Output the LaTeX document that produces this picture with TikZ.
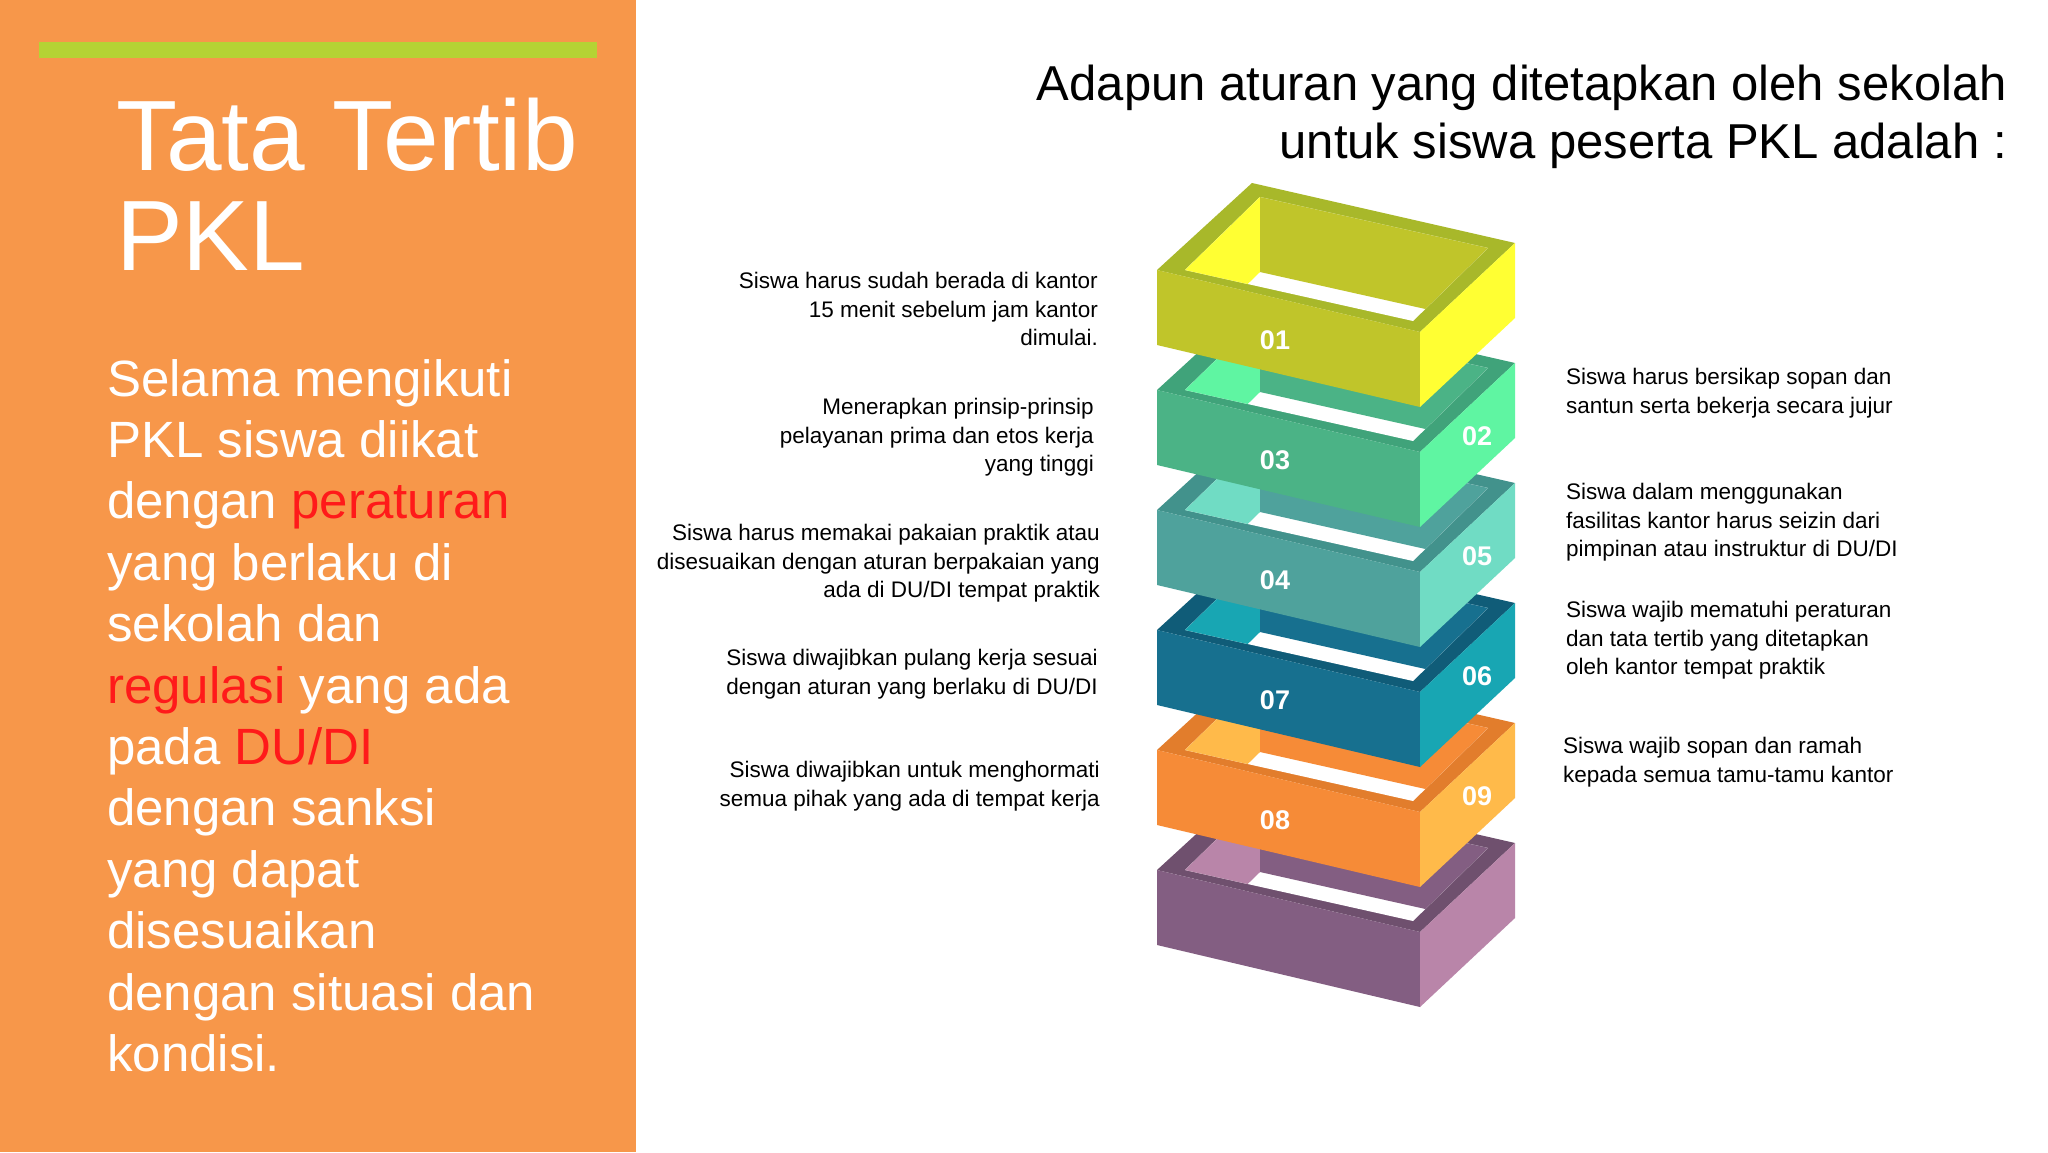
\documentclass[tikz,border=0pt]{standalone}
\usepackage{fontspec}
\setmainfont{Liberation Sans}
\definecolor{bgorange}{HTML}{F7974A}
\definecolor{barg}{HTML}{B5D334}
\definecolor{redt}{HTML}{FF1A1A}
\definecolor{yF}{HTML}{C0C52A}\definecolor{yS}{HTML}{FFFF33}\definecolor{yR}{HTML}{A8B82A}
\definecolor{gF}{HTML}{4BB386}\definecolor{gS}{HTML}{5FF5A2}\definecolor{gR}{HTML}{40A37A}
\definecolor{tF}{HTML}{4FA29C}\definecolor{tS}{HTML}{70DCC4}\definecolor{tR}{HTML}{42928C}
\definecolor{bF}{HTML}{17708F}\definecolor{bS}{HTML}{18A6B3}\definecolor{bR}{HTML}{105C78}
\definecolor{oF}{HTML}{F68B37}\definecolor{oS}{HTML}{FFBA4A}\definecolor{oR}{HTML}{E27D2C}
\definecolor{pF}{HTML}{835E82}\definecolor{pS}{HTML}{B985A9}\definecolor{pR}{HTML}{6F506E}
\newcommand\mybox[4]{%
\begin{scope}[shift={(0,#1)}]
\fill[#4] (1157,270)--(1252,183)--(1515,243)--(1420,332)--cycle;
\fill[white] (1185,270)--(1260,197)--(1488,248)--(1413,321)--cycle;
\begin{scope}
\clip (1185,270)--(1260,197)--(1488,248)--(1413,321)--cycle;
\fill[#3] (1185,270)--(1260,197)--(1260,272)--(1185,345)--cycle;
\fill[#2] (1260,197)--(1488,248)--(1488,323)--(1260,272)--cycle;
\end{scope}
\fill[#2] (1157,270)--(1420,332)--(1420,407)--(1157,345)--cycle;
\fill[#3] (1420,332)--(1515,243)--(1515,318)--(1420,407)--cycle;
\end{scope}}
\begin{document}
\begin{tikzpicture}[x=1pt,y=-1pt,
  num/.style={text=white,font=\bfseries\fontsize{27}{27}\selectfont,inner sep=0},
  lt/.style={anchor=north east,align=right,inner sep=0,font=\fontsize{22.5}{28.5}\selectfont},
  rt/.style={anchor=north west,align=left,inner sep=0,font=\fontsize{22.5}{28.5}\selectfont}]
\useasboundingbox (0,0) rectangle (2048,1152);
\fill[white] (0,0) rectangle (2048,1152);
\fill[bgorange] (0,0) rectangle (636,1152);
\fill[barg] (39,42) rectangle (597,58);
\node[anchor=north west,align=left,inner sep=0,text=white,font=\fontsize{100}{100}\selectfont] (title) at (116,98) {Tata Tertib\\PKL};
\node[anchor=north west,align=left,inner sep=0,text=white,font=\fontsize{51}{61.4}\selectfont] (body) at (107,359) {Selama mengikuti\\PKL siswa diikat\\dengan \textcolor{redt}{peraturan}\\yang berlaku di\\sekolah dan\\\textcolor{redt}{regulasi} yang ada\\pada \textcolor{redt}{DU/DI}\\dengan sanksi\\yang dapat\\disesuaikan\\dengan situasi dan\\kondisi.};
\node[anchor=north east,align=right,inner sep=0,font=\fontsize{49}{58}\selectfont] (head) at (2007,65) {Adapun aturan yang ditetapkan oleh sekolah\\untuk siswa peserta PKL adalah :};
\mybox{600}{pF}{pS}{pR}
\mybox{480}{oF}{oS}{oR}
\mybox{360}{bF}{bS}{bR}
\mybox{240}{tF}{tS}{tR}
\mybox{120}{gF}{gS}{gR}
\mybox{0}{yF}{yS}{yR}
\node[num] (n01) at (1275,340) {01};
\node[num] (n03) at (1275,460) {03};
\node[num] (n04) at (1275,580) {04};
\node[num] (n07) at (1275,700) {07};
\node[num] (n08) at (1275,820) {08};
\node[num] (n02) at (1477,436) {02};
\node[num] (n05) at (1477,556) {05};
\node[num] (n06) at (1477,676) {06};
\node[num] (n09) at (1477,796) {09};
\node[lt] (l1) at (1098,272) {Siswa harus sudah berada di kantor\\15 menit sebelum jam kantor\\dimulai.};
\node[lt] (l2) at (1094,398) {Menerapkan prinsip-prinsip\\pelayanan prima dan etos kerja\\yang tinggi};
\node[lt] (l3) at (1100,524) {Siswa harus memakai pakaian praktik atau\\disesuaikan dengan aturan berpakaian yang\\ada di DU/DI tempat praktik};
\node[lt] (l4) at (1098,649) {Siswa diwajibkan pulang kerja sesuai\\dengan aturan yang berlaku di DU/DI};
\node[lt] (l5) at (1100,761) {Siswa diwajibkan untuk menghormati\\semua pihak yang ada di tempat kerja};
\node[rt] (r1) at (1566,368) {Siswa harus bersikap sopan dan\\santun serta bekerja secara jujur};
\node[rt] (r2) at (1566,483) {Siswa dalam menggunakan\\fasilitas kantor harus seizin dari\\pimpinan atau instruktur di DU/DI};
\node[rt] (r3) at (1566,601) {Siswa wajib mematuhi peraturan\\dan tata tertib yang ditetapkan\\oleh kantor tempat praktik};
\node[rt] (r4) at (1563,737) {Siswa wajib sopan dan ramah\\kepada semua tamu-tamu kantor};
\end{tikzpicture}
\end{document}
